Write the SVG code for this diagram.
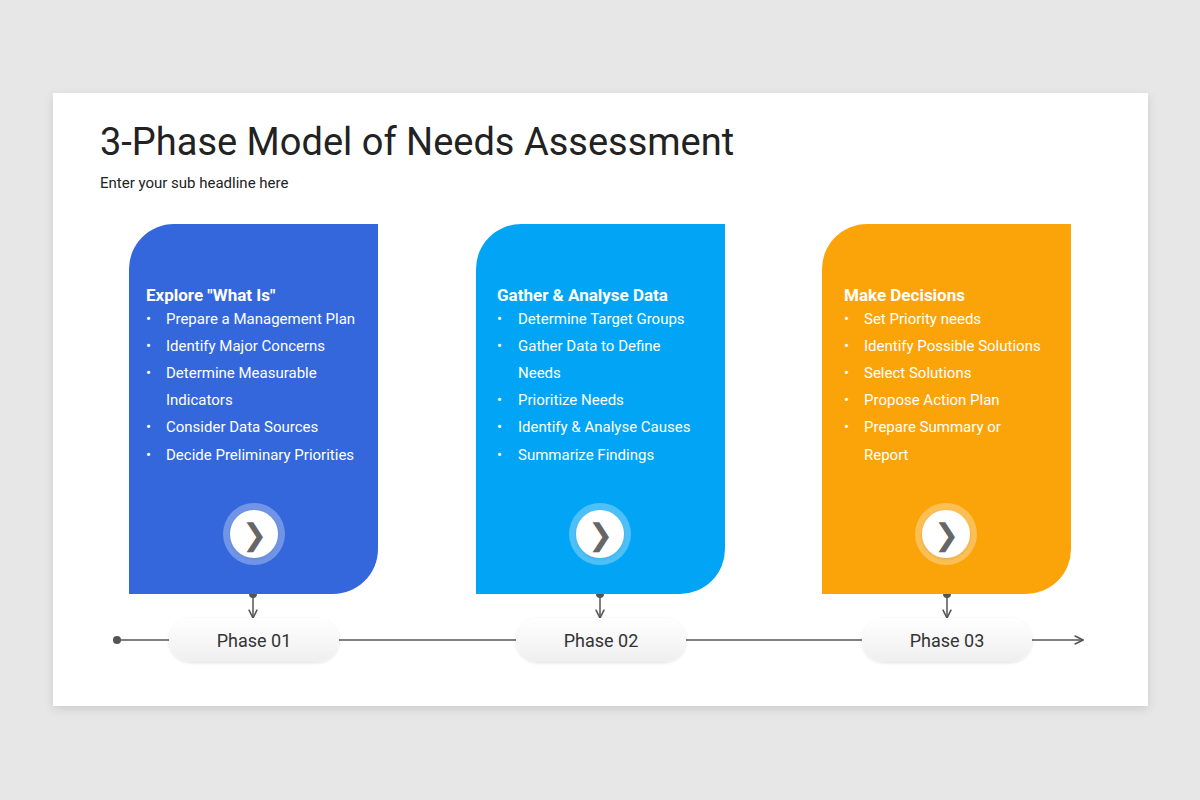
<svg xmlns="http://www.w3.org/2000/svg" width="1200" height="800" viewBox="0 0 1200 800">
<defs>
<filter id="sh" x="-10%" y="-10%" width="120%" height="120%"><feDropShadow dx="0" dy="3" stdDeviation="5" flood-color="#000" flood-opacity="0.12"/></filter>
<filter id="ps" x="-20%" y="-30%" width="140%" height="160%"><feDropShadow dx="0" dy="1" stdDeviation="1.5" flood-color="#000" flood-opacity="0.12"/></filter>
<linearGradient id="pg" x1="0" y1="0" x2="0" y2="1"><stop offset="0" stop-color="#ffffff"/><stop offset="1" stop-color="#efefef"/></linearGradient>
<marker id="ar" viewBox="0 0 10 10" refX="9" refY="5" markerWidth="7" markerHeight="7" orient="auto"><path d="M1,1 L9,5 L1,9" fill="none" stroke="#555" stroke-width="1.5"/></marker>
</defs>
<style>
text{font-family:Roboto,"Liberation Sans",sans-serif}
.h{font-size:17px;font-weight:bold;fill:#fff}
.b{font-size:15px;fill:#fff}
.p{font-size:18px;fill:#333;text-anchor:middle}
.ln{stroke:#555;stroke-width:1.5;fill:none}
.chev{font-size:30px;fill:#666;text-anchor:middle}
</style>
<rect width="1200" height="800" fill="#e8e7e8"/>
<rect x="53" y="93" width="1095" height="613" fill="#fff" filter="url(#sh)"/>
<text x="100" y="155" font-size="38" fill="#222">3-Phase Model of Needs Assessment</text>
<text x="100" y="188" font-size="15" fill="#222">Enter your sub headline here</text>
<g id="connectors">
<line class="ln" x1="117" y1="640" x2="169" y2="640"/>
<circle cx="117" cy="640" r="4" fill="#555"/>
<line class="ln" x1="339" y1="640" x2="516" y2="640"/>
<line class="ln" x1="686" y1="640" x2="862" y2="640"/>
<line class="ln" x1="1032" y1="640" x2="1083" y2="640" marker-end="url(#ar)"/>
<circle cx="253" cy="594" r="4" fill="#555"/><line class="ln" x1="253" y1="594" x2="253" y2="618" marker-end="url(#ar)"/>
<circle cx="600" cy="594" r="4" fill="#555"/><line class="ln" x1="600" y1="594" x2="600" y2="618" marker-end="url(#ar)"/>
<circle cx="947" cy="594" r="4" fill="#555"/><line class="ln" x1="947" y1="594" x2="947" y2="618" marker-end="url(#ar)"/>
</g>
<g id="card1">
<path d="M174,224 H378 V549 A45,45 0 0 1 333,594 H129 V269 A45,45 0 0 1 174,224 Z" fill="#3467dc"/>
<text class="h" x="146" y="301">Explore "What Is"</text>
<g class="b"><text x="146" y="324">•</text><text x="166" y="324">Prepare a Management Plan</text>
<text x="146" y="351">•</text><text x="166" y="351">Identify Major Concerns</text>
<text x="146" y="378">•</text><text x="166" y="378">Determine Measurable</text>
<text x="166" y="405">Indicators</text>
<text x="146" y="432">•</text><text x="166" y="432">Consider Data Sources</text>
<text x="146" y="460">•</text><text x="166" y="460">Decide Preliminary Priorities</text></g>
<circle cx="254" cy="534" r="31" fill="#fff" fill-opacity="0.3"/>
<circle cx="254" cy="534" r="24" fill="#fff" filter="url(#ps)"/>
<text class="chev" x="254" y="545">❯</text>
</g>
<g id="card2">
<path d="M521,224 H725 V549 A45,45 0 0 1 680,594 H476 V269 A45,45 0 0 1 521,224 Z" fill="#02a5f5"/>
<text class="h" x="497" y="301">Gather &amp; Analyse Data</text>
<g class="b"><text x="497" y="324">•</text><text x="518" y="324">Determine Target Groups</text>
<text x="497" y="351">•</text><text x="518" y="351">Gather Data to Define</text>
<text x="518" y="378">Needs</text>
<text x="497" y="405">•</text><text x="518" y="405">Prioritize Needs</text>
<text x="497" y="432">•</text><text x="518" y="432">Identify &amp; Analyse Causes</text>
<text x="497" y="460">•</text><text x="518" y="460">Summarize Findings</text></g>
<circle cx="600" cy="534" r="31" fill="#fff" fill-opacity="0.3"/>
<circle cx="600" cy="534" r="24" fill="#fff" filter="url(#ps)"/>
<text class="chev" x="600" y="545">❯</text>
</g>
<g id="card3">
<path d="M867,224 H1071 V549 A45,45 0 0 1 1026,594 H822 V269 A45,45 0 0 1 867,224 Z" fill="#fba40a"/>
<text class="h" x="844" y="301">Make Decisions</text>
<g class="b"><text x="844" y="324">•</text><text x="864" y="324">Set Priority needs</text>
<text x="844" y="351">•</text><text x="864" y="351">Identify Possible Solutions</text>
<text x="844" y="378">•</text><text x="864" y="378">Select Solutions</text>
<text x="844" y="405">•</text><text x="864" y="405">Propose Action Plan</text>
<text x="844" y="432">•</text><text x="864" y="432">Prepare Summary or</text>
<text x="864" y="460">Report</text></g>
<circle cx="946" cy="534" r="31" fill="#fff" fill-opacity="0.3"/>
<circle cx="946" cy="534" r="24" fill="#fff" filter="url(#ps)"/>
<text class="chev" x="946" y="545">❯</text>
</g>
<g id="phase1"><rect x="169" y="618" width="170" height="44" rx="22" fill="url(#pg)" filter="url(#ps)"/><text class="p" x="254" y="647">Phase 01</text></g>
<g id="phase2"><rect x="516" y="618" width="170" height="44" rx="22" fill="url(#pg)" filter="url(#ps)"/><text class="p" x="601" y="647">Phase 02</text></g>
<g id="phase3"><rect x="862" y="618" width="170" height="44" rx="22" fill="url(#pg)" filter="url(#ps)"/><text class="p" x="947" y="647">Phase 03</text></g>
</svg>
